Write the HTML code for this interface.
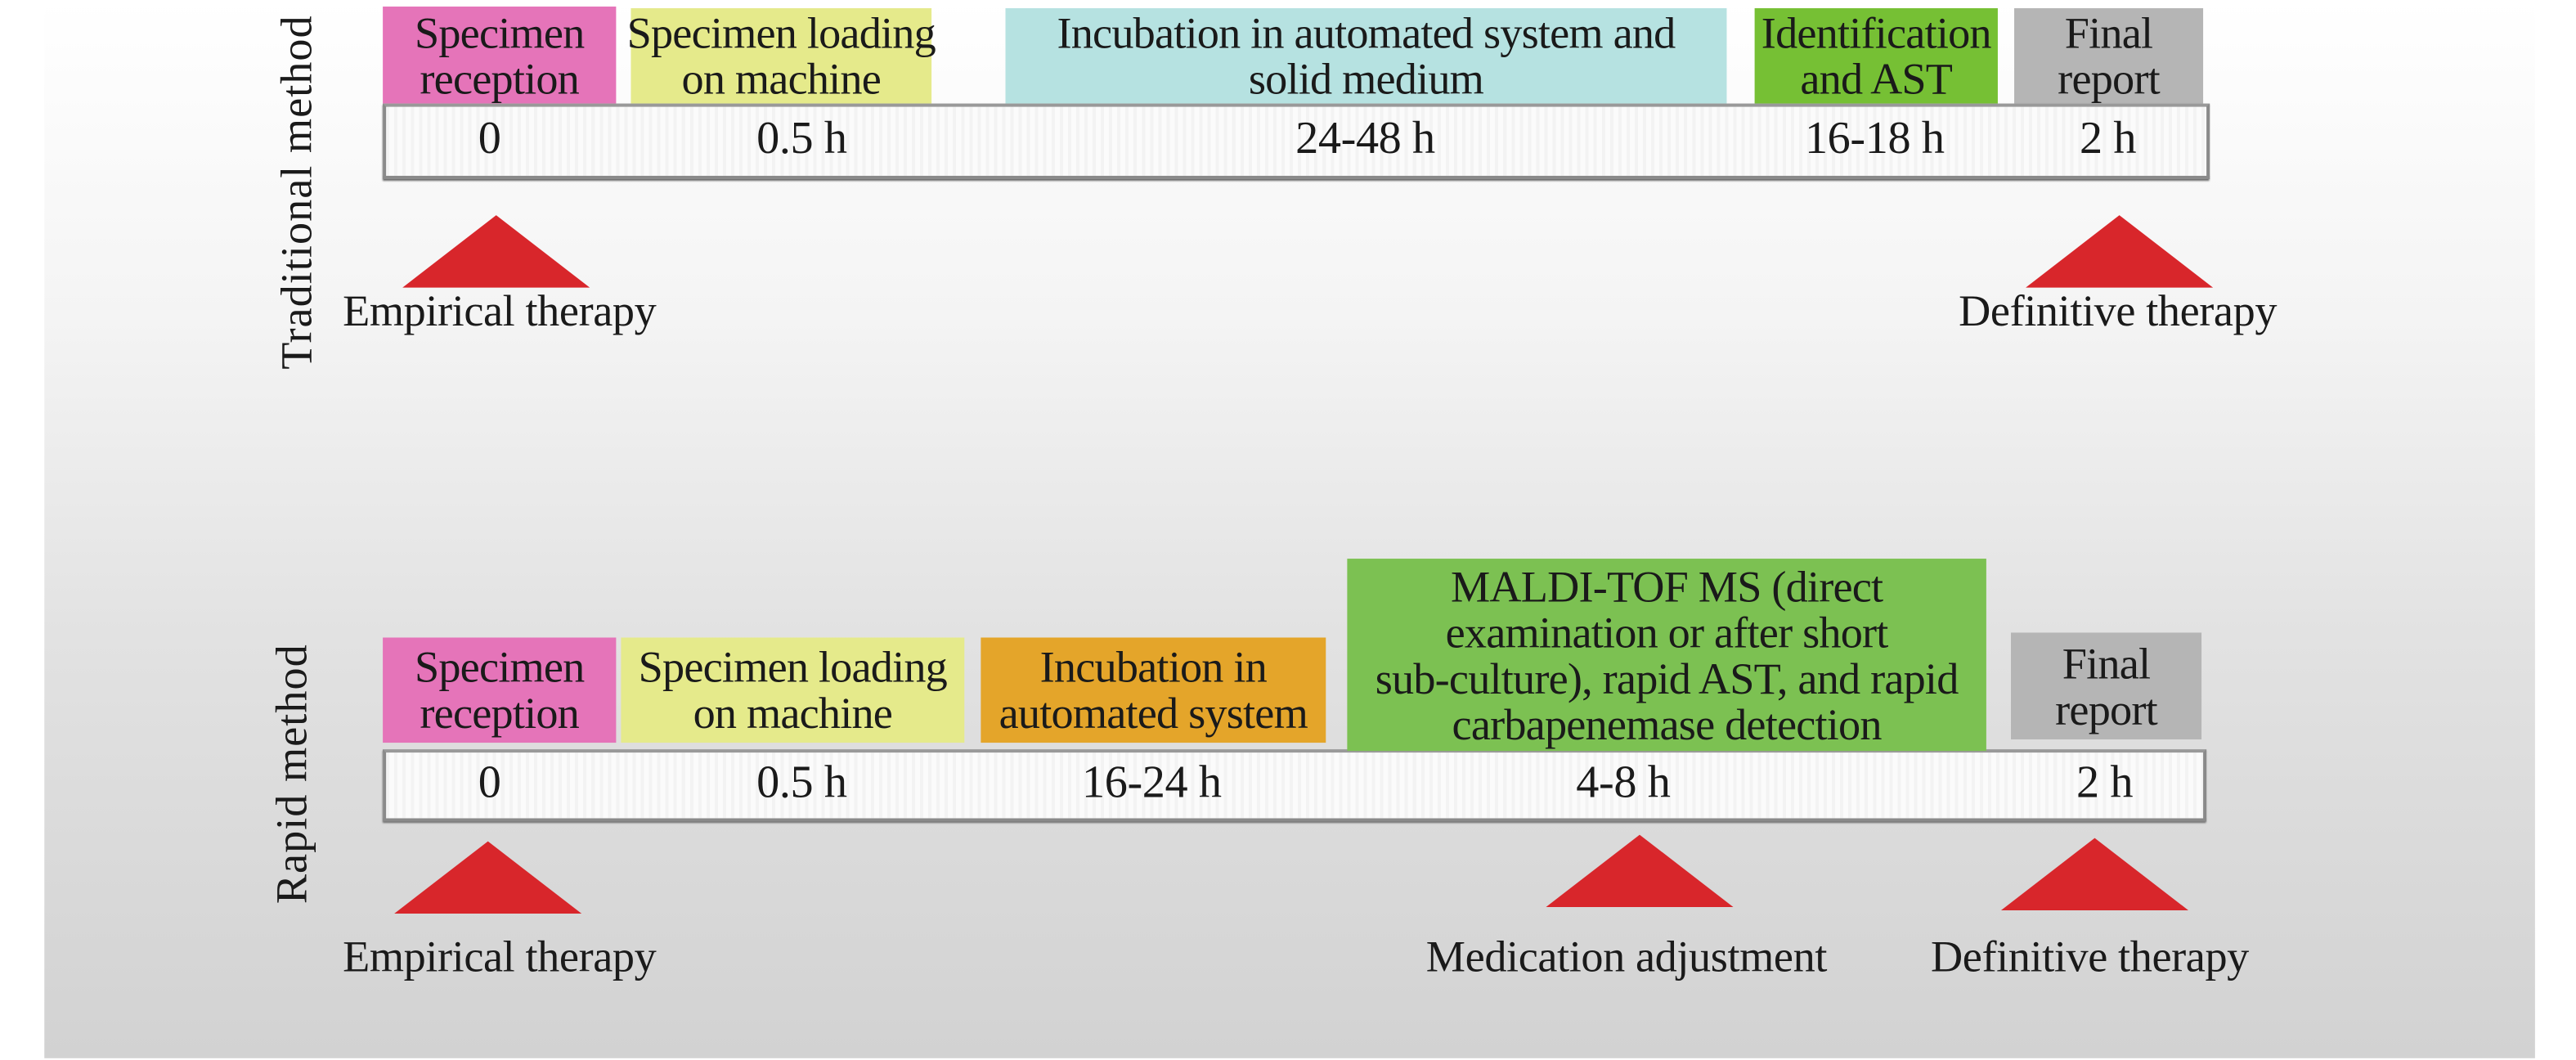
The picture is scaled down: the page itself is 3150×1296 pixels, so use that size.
<!DOCTYPE html>
<html><head><meta charset="utf-8">
<style>
html,body{margin:0;padding:0;background:#fff;width:3150px;height:1296px;overflow:hidden}
#s{position:absolute;left:0;top:0;width:1568px;height:645px;transform:scale(2.009);transform-origin:0 0;font-family:"Liberation Serif",serif;color:#1a1a1a}
.panel{position:absolute;left:27px;top:0;width:1516px;height:644px;background:linear-gradient(#ffffff 0%,#f4f4f4 30%,#e2e2e2 60%,#d2d2d2 100%)}
.b{position:absolute;display:flex;align-items:center;justify-content:center;text-align:center;font-size:27px;line-height:28px;letter-spacing:-0.4px;white-space:nowrap}
.bar{position:absolute;background:#fbfbfb;border:2px solid #8a8a8a;border-top-color:#999;box-shadow:0 1px 1px #666;background-image:repeating-linear-gradient(90deg,rgba(0,0,0,0.03) 0 2px,transparent 2px 5px)}
.t{position:absolute;font-size:27px;transform:translateX(-50%);white-space:nowrap;letter-spacing:-0.2px}
.tm{font-size:28px}
.tri{position:absolute;width:0;height:0;border-left:57px solid transparent;border-right:57px solid transparent;border-bottom:44px solid #d8262b}
.v{position:absolute;font-size:27px;white-space:nowrap;transform:translate(-50%,-50%) rotate(-90deg);letter-spacing:0.5px}
</style></head><body>
<div id="s">
<div class="panel"></div>

<div class="v" style="left:181px;top:117px">Traditional method</div>
<div class="v" style="left:178px;top:471px">Rapid method</div>

<!-- Traditional -->
<div class="b" style="left:233px;top:4px;width:142px;height:59px;background:#e574b9">Specimen<br>reception</div>
<div class="b" style="left:384px;top:5px;width:183px;height:58px;background:#e5ea8b">Specimen loading<br>on machine</div>
<div class="b" style="left:612px;top:5px;width:439px;height:58px;background:#b6e2e1">Incubation in automated system and<br>solid medium</div>
<div class="b" style="left:1068px;top:5px;width:148px;height:58px;background:#76c034">Identification<br>and AST</div>
<div class="b" style="left:1226px;top:5px;width:115px;height:58px;background:#b5b5b5">Final<br>report</div>
<div class="bar" style="left:233px;top:63px;width:1108px;height:42px"></div>
<div class="t tm" style="left:298px;top:69px">0</div>
<div class="t tm" style="left:488px;top:69px">0.5 h</div>
<div class="t tm" style="left:831px;top:69px">24-48 h</div>
<div class="t tm" style="left:1141px;top:69px">16-18 h</div>
<div class="t tm" style="left:1283px;top:69px">2 h</div>
<div class="tri" style="left:245px;top:131px"></div>
<div class="tri" style="left:1233px;top:131px"></div>
<div class="t" style="left:304px;top:174px">Empirical therapy</div>
<div class="t" style="left:1289px;top:174px">Definitive therapy</div>

<!-- Rapid -->
<div class="b" style="left:233px;top:388px;width:142px;height:64px;background:#e574b9">Specimen<br>reception</div>
<div class="b" style="left:378px;top:388px;width:209px;height:64px;background:#e5ea8b">Specimen loading<br>on machine</div>
<div class="b" style="left:597px;top:388px;width:210px;height:64px;background:#e4a52a">Incubation in<br>automated system</div>
<div class="bar" style="left:233px;top:456px;width:1106px;height:40px"></div>
<div class="b" style="left:820px;top:340px;width:389px;height:117px;background:#7cc152">MALDI-TOF MS (direct<br>examination or after short<br>sub-culture), rapid AST, and rapid<br>carbapenemase detection</div>
<div class="b" style="left:1224px;top:385px;width:116px;height:65px;background:#b5b5b5">Final<br>report</div>
<div class="t tm" style="left:298px;top:461px">0</div>
<div class="t tm" style="left:488px;top:461px">0.5 h</div>
<div class="t tm" style="left:701px;top:461px">16-24 h</div>
<div class="t tm" style="left:988px;top:461px">4-8 h</div>
<div class="t tm" style="left:1281px;top:461px">2 h</div>
<div class="tri" style="left:240px;top:512px"></div>
<div class="tri" style="left:941px;top:508px"></div>
<div class="tri" style="left:1218px;top:510px"></div>
<div class="t" style="left:304px;top:567px">Empirical therapy</div>
<div class="t" style="left:990px;top:567px">Medication adjustment</div>
<div class="t" style="left:1272px;top:567px">Definitive therapy</div>
</div>
</body></html>
